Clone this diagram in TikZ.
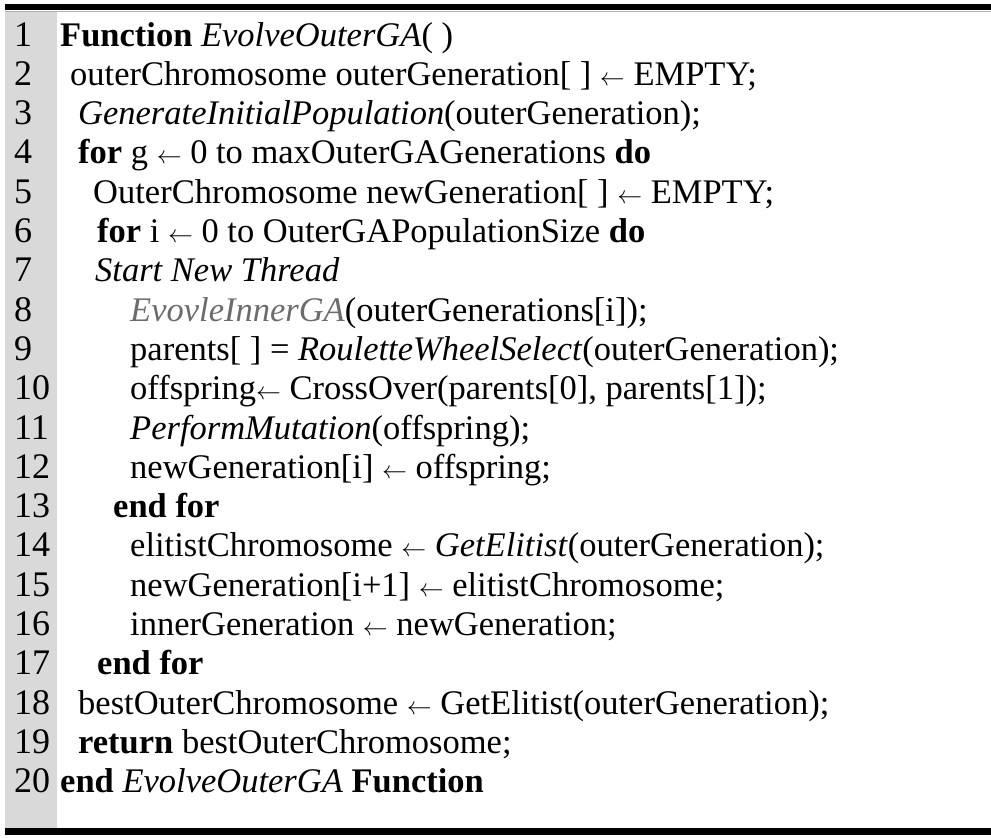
\documentclass[tikz,border=0pt]{standalone}
\usepackage{fontspec}
\setmainfont{Liberation Serif}
\newcommand{\la}{\ensuremath{\leftarrow}}
\begin{document}
\begin{tikzpicture}[x=1pt,y=-1pt,
  ln/.style={anchor=base west,inner sep=0pt,font=\fontsize{34.5}{39}\selectfont},
  num/.style={anchor=base west,inner sep=0pt,font=\fontsize{36}{39}\selectfont}]
\useasboundingbox (0,0) rectangle (991,838);
\fill[white] (0,0) rectangle (991,838);
\fill[gray!30] (5,11) rectangle (57,828);
\fill[black] (5,4) rectangle (991,10);
\draw[gray!60,line width=1pt] (5,11) -- (991,11);
\fill[black] (5,828) rectangle (991,835);
\foreach \i in {1,...,20}{
  \node[num] (n\i) at (14,{46+(\i-1)*39.3}) {\i};
}
\def\L#1#2#3{\node[ln] (l#1) at (#2,{46+(#1-1)*39.3}) {#3};}
\L{1}{60}{\textbf{Function} \textit{EvolveOuterGA}( )}
\L{2}{70}{outerChromosome outerGeneration[ ] \la{} EMPTY;}
\L{3}{78}{\textit{GenerateInitialPopulation}(outerGeneration);}
\L{4}{78}{\textbf{for} g \la{} 0 to maxOuterGAGenerations \textbf{do}}
\L{5}{93}{OuterChromosome newGeneration[ ] \la{} EMPTY;}
\L{6}{97}{\textbf{for} i \la{} 0 to OuterGAPopulationSize \textbf{do}}
\L{7}{95}{\textit{Start New Thread}}
\L{8}{130}{{\color{gray!85!black}\textit{EvovleInnerGA}}(outerGenerations[i]);}
\L{9}{130}{parents[ ] = \textit{RouletteWheelSelect}(outerGeneration);}
\L{10}{130}{offspring\la{} CrossOver(parents[0], parents[1]);}
\L{11}{130}{\textit{PerformMutation}(offspring);}
\L{12}{130}{newGeneration[i] \la{} offspring;}
\L{13}{113}{\textbf{end for}}
\L{14}{130}{elitistChromosome \la{} \textit{GetElitist}(outerGeneration);}
\L{15}{130}{newGeneration[i+1] \la{} elitistChromosome;}
\L{16}{130}{innerGeneration \la{} newGeneration;}
\L{17}{97}{\textbf{end for}}
\L{18}{78}{bestOuterChromosome \la{} GetElitist(outerGeneration);}
\L{19}{78}{\textbf{return} bestOuterChromosome;}
\L{20}{60}{\textbf{end} \textit{EvolveOuterGA} \textbf{Function}}
\end{tikzpicture}
\end{document}
